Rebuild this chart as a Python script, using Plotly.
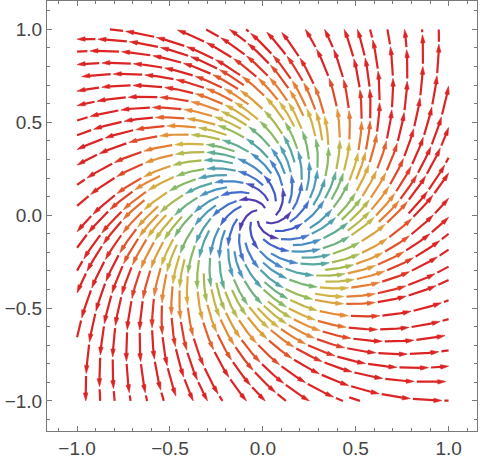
import math
import numpy as np
import plotly.graph_objects as go

# ---- data -------------------------------------------------------------
FIELD = [[1.0, -1.0], [1.0, 1.0]]          # dx/dt = x - y , dy/dt = x + y
XDOM = [-1.0, 1.0]
YDOM = [-1.0, 1.0]
FIRST_SEED = [0.45, 0.05]
# colour by distance from the centre
COLOR_R = [0.0, 0.07, 0.17, 0.29, 0.39, 0.47, 0.56, 0.66, 0.75, 0.84]
COLOR_HEX = ["#55209a", "#5a2aa2", "#4160d0", "#4a92c2", "#58aa9c", "#90bc5a",
             "#d2b443", "#e68a38", "#e04c2a", "#dc2424"]
TICKS = [-1.0, -0.5, 0.0, 0.5, 1.0]
TICK_TEXT = ["\u22121.0", "\u22120.5", "0.0", "0.5", "1.0"]
MINOR_TICKS = [-1.1, -0.9, -0.8, -0.7, -0.6, -0.4, -0.3, -0.2, -0.1,
               0.1, 0.2, 0.3, 0.4, 0.6, 0.7, 0.8, 0.9, 1.1]

# ---- streamline parameters -------------------------------------------
DSEP = 0.062
DTEST = 0.5 * DSEP
H = 0.004
RMIN = 0.03
MAXSTEP = 1500
PERIOD = 0.17
GAP = 0.014
HEAD_L = 0.043
HEAD_W = 0.012

(a, b), (c, d) = FIELD


def f(x, y, s):
    u = a * x + b * y
    v = c * x + d * y
    n = math.hypot(u, v)
    if n < 1e-12:
        return None
    return s * u / n, s * v / n


def rk4(x, y, s):
    k1 = f(x, y, s)
    if k1 is None:
        return None
    k2 = f(x + 0.5 * H * k1[0], y + 0.5 * H * k1[1], s)
    if k2 is None:
        return None
    k3 = f(x + 0.5 * H * k2[0], y + 0.5 * H * k2[1], s)
    if k3 is None:
        return None
    k4 = f(x + H * k3[0], y + H * k3[1], s)
    if k4 is None:
        return None
    return (x + H / 6 * (k1[0] + 2 * k2[0] + 2 * k3[0] + k4[0]),
            y + H / 6 * (k1[1] + 2 * k2[1] + 2 * k3[1] + k4[1]))


grid = {}
CELL = DSEP


def add_point(x, y, lid):
    key = (math.floor(x / CELL), math.floor(y / CELL))
    grid.setdefault(key, []).append((x, y, lid))


def is_near(x, y, dist):
    ci, cj = math.floor(x / CELL), math.floor(y / CELL)
    d2 = dist * dist
    for i in (ci - 1, ci, ci + 1):
        for j in (cj - 1, cj, cj + 1):
            for (px, py, _l) in grid.get((i, j), ()):
                if (px - x) ** 2 + (py - y) ** 2 < d2:
                    return True
    return False


def inside(x, y):
    return XDOM[0] <= x <= XDOM[1] and YDOM[0] <= y <= YDOM[1]


def clip_to_box(x0, y0, x1, y1):
    t = 1.0
    if x1 < XDOM[0]:
        t = min(t, (XDOM[0] - x0) / (x1 - x0))
    if x1 > XDOM[1]:
        t = min(t, (XDOM[1] - x0) / (x1 - x0))
    if y1 < YDOM[0]:
        t = min(t, (YDOM[0] - y0) / (y1 - y0))
    if y1 > YDOM[1]:
        t = min(t, (YDOM[1] - y0) / (y1 - y0))
    return x0 + t * (x1 - x0), y0 + t * (y1 - y0)


def trace(x0, y0):
    halves = []
    for s in (1, -1):
        x, y = x0, y0
        out = []
        for _ in range(MAXSTEP):
            r = rk4(x, y, s)
            if r is None:
                break
            nx, ny = r
            if not inside(nx, ny):
                out.append(clip_to_box(x, y, nx, ny))
                break
            if math.hypot(nx, ny) < RMIN:
                break
            if is_near(nx, ny, DTEST):
                break
            out.append((nx, ny))
            x, y = nx, ny
        halves.append(out)
    fwd, back = halves
    return list(reversed(back)) + [(x0, y0)] + fwd


def valid_seed(x, y):
    return inside(x, y) and math.hypot(x, y) > RMIN * 2 and not is_near(x, y, DSEP)


lines = []


def arclen(pts):
    p = np.array(pts)
    return float(np.sum(np.hypot(np.diff(p[:, 0]), np.diff(p[:, 1]))))


def try_add(x, y):
    if not valid_seed(x, y):
        return
    pts = trace(x, y)
    if len(pts) < 5 or arclen(pts) < 0.06:
        return
    lid = len(lines)
    for (px, py) in pts:
        add_point(px, py, lid)
    lines.append(pts)


try_add(*FIRST_SEED)
qi = 0
while qi < len(lines):
    pts = lines[qi]
    step = max(1, int(DSEP / 2 / H))
    for k in range(0, len(pts), step):
        x, y = pts[k]
        dv = f(x, y, 1)
        if dv is None:
            continue
        nx, ny = -dv[1], dv[0]
        for sg in (1, -1):
            try_add(x + sg * DSEP * nx, y + sg * DSEP * ny)
    qi += 1

# ---- colours ----------------------------------------------------------
rgb_stops = np.array([[int(h[1:3], 16), int(h[3:5], 16), int(h[5:7], 16)] for h in COLOR_HEX], float)


def color_for(r):
    rr = min(max(r, COLOR_R[0]), COLOR_R[-1])
    ch = [np.interp(rr, COLOR_R, rgb_stops[:, k]) for k in range(3)]
    return "#%02x%02x%02x" % tuple(int(round(v)) for v in ch)


BIN = 0.02
groups = {}

for pts in lines:
    p = np.array(pts)
    seg = np.hypot(np.diff(p[:, 0]), np.diff(p[:, 1]))
    s = np.concatenate([[0.0], np.cumsum(seg)])
    total = s[-1]
    k = 0
    while k * PERIOD < total:
        s0 = k * PERIOD + GAP
        s1 = min((k + 1) * PERIOD, total)
        k += 1
        if s1 - s0 < 0.015:
            continue
        has_head = (s1 - s0) > 0.6 * (PERIOD - GAP)
        ss = np.linspace(s0, s1, max(3, int((s1 - s0) / 0.006)))
        xs = np.interp(ss, s, p[:, 0])
        ys = np.interp(ss, s, p[:, 1])
        mid = len(ss) // 2
        rmid = math.hypot(xs[mid], ys[mid])
        key = round(min(rmid, COLOR_R[-1]) / BIN)
        g = groups.setdefault(key, {"lx": [], "ly": [], "hx": [], "hy": []})
        if has_head:
            tx, ty = xs[-1], ys[-1]
            dx, dy = xs[-1] - xs[-2], ys[-1] - ys[-2]
            nrm = math.hypot(dx, dy)
            dx, dy = dx / nrm, dy / nrm
            keep = ss <= s1 - HEAD_L * 0.6
            g["lx"] += list(xs[keep]) + [None]
            g["ly"] += list(ys[keep]) + [None]
            bx, by = tx - HEAD_L * dx, ty - HEAD_L * dy
            g["hx"] += [tx, bx - HEAD_W * dy, bx + HEAD_W * dy, tx, None]
            g["hy"] += [ty, by + HEAD_W * dx, by - HEAD_W * dx, ty, None]
        else:
            g["lx"] += list(xs) + [None]
            g["ly"] += list(ys) + [None]

fig = go.Figure()
for key in sorted(groups):
    g = groups[key]
    col = color_for(key * BIN)
    fig.add_trace(go.Scatter(x=g["lx"], y=g["ly"], mode="lines",
                             line=dict(color=col, width=2.2), hoverinfo="skip"))
    if g["hx"]:
        fig.add_trace(go.Scatter(x=g["hx"], y=g["hy"], mode="lines", fill="toself",
                                 fillcolor=col, line=dict(color=col, width=0.6),
                                 hoverinfo="skip"))

axis_common = dict(
    showgrid=False, zeroline=False, showline=True, linecolor="#7a7a7a", linewidth=1,
    mirror="ticks", ticks="inside", ticklen=5, tickwidth=1, tickcolor="#7a7a7a",
    tickvals=TICKS, ticktext=TICK_TEXT, automargin=False,
    tickfont=dict(family="Liberation Sans, Arial, sans-serif", size=19, color="#444444"),
    minor=dict(ticks="inside", ticklen=3, tickwidth=1, tickcolor="#7a7a7a",
               tickvals=MINOR_TICKS, showgrid=False),
)
fig.update_xaxes(range=[-1.162, 1.153], **axis_common)
fig.update_yaxes(range=[-1.162, 1.153], **axis_common)
fig.update_layout(width=480, height=462, margin=dict(l=47, r=3, t=1, b=31),
                  plot_bgcolor="white", paper_bgcolor="white", showlegend=False)
fig.write_html("out.html", config={"displayModeBar": False},
               post_script="document.body.style.margin='0px';")
